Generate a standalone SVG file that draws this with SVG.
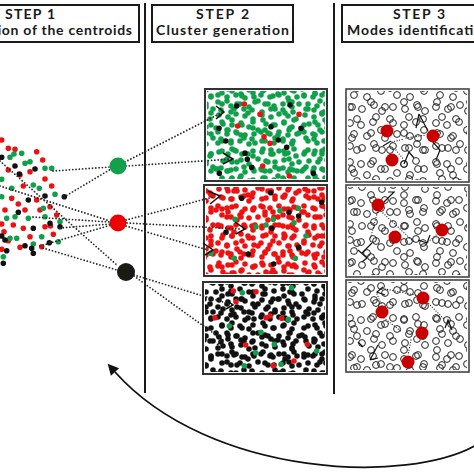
<svg xmlns="http://www.w3.org/2000/svg" width="474" height="474" viewBox="0 0 474 474">
<style>
.hdr{fill:#fff;stroke:#1a1a1a;stroke-width:2}
.ht{font-family:Lato,"Open Sans","Liberation Sans",sans-serif;font-weight:700;font-size:14px;fill:#1a1a1a}
.sep{stroke:#1a1a1a;stroke-width:2}
.pm{fill:#fff;stroke:#333;stroke-width:2}
.pr{fill:#fff;stroke:#444;stroke-width:1.6}
.dot{fill:none;stroke-linecap:round;stroke-width:5.6}
.g{stroke:#0fa04a}.r{stroke:#ee1111}.k{stroke:#111}
.dl{fill:none;stroke:#2a2a2a;stroke-width:1.8;stroke-linecap:round;stroke-dasharray:0 3.3}
.ch{fill:none;stroke:#111;stroke-width:1.5}
.tr{fill:none;stroke:#111;stroke-width:1.2}
.trd{fill:none;stroke:#222;stroke-width:1.3;stroke-linecap:round;stroke-dasharray:0 2.6}
.mode{fill:#c80000}
.hc{fill:none;stroke:#222;stroke-width:1}
</style>
<defs>
<pattern id="p1" width="43" height="37" patternUnits="userSpaceOnUse"><path class="dot" stroke="#fff" d="M4 4h0M13 6h0M21 3h0M30 5h0M38 8h0M8 13h0M17 14h0M26 12h0M34 16h0M3 21h0M12 23h0M21 21h0M30 24h0M39 23h0M7 30h0M16 32h0M25 30h0M34 33h0"/></pattern>
<pattern id="p2" width="31" height="29" patternUnits="userSpaceOnUse"><path class="dot" stroke="#fff" d="M5 6h0M15 4h0M25 9h0M10 14h0M20 17h0M27 22h0M4 23h0M14 25h0"/></pattern>
<pattern id="p5" width="37" height="41" patternUnits="userSpaceOnUse"><path class="dot" stroke="#fff" d="M6 7h0M19 12h0M31 5h0M12 27h0M26 31h0M33 20h0"/></pattern>
<mask id="mD" maskUnits="userSpaceOnUse" x="0" y="0" width="474" height="474"><rect width="474" height="474" fill="url(#p1)"/><rect width="474" height="474" fill="url(#p2)"/><rect width="474" height="474" fill="url(#p5)"/></mask>
<pattern id="p3" width="43" height="39" patternUnits="userSpaceOnUse"><g class="hc"><circle cx="6" cy="6" r="3.4"/><circle cx="17" cy="8" r="3.4"/><circle cx="29" cy="5" r="3.4"/><circle cx="37" cy="13" r="3.4"/><circle cx="10" cy="17" r="3.4"/><circle cx="23" cy="19" r="3.4"/><circle cx="6" cy="29" r="3.4"/><circle cx="18" cy="31" r="3.4"/><circle cx="30" cy="27" r="3.4"/><circle cx="38" cy="33" r="3.4"/></g></pattern>
<pattern id="p4" width="33" height="31" patternUnits="userSpaceOnUse"><g class="hc"><circle cx="8" cy="9" r="3.4"/><circle cx="22" cy="14" r="3.4"/><circle cx="13" cy="24" r="3.4"/><circle cx="27" cy="26" r="3.4"/></g></pattern>
</defs>
<rect width="474" height="474" fill="#fff"/>

<g id="separators">
<line class="sep" x1="145" y1="3" x2="145" y2="393"/>
<line class="sep" x1="334" y1="3" x2="334" y2="394"/>
</g>

<g id="step1-header">
<rect class="hdr" x="-5" y="5" width="144" height="37"/>
<text class="ht" x="5" y="19" textLength="50">STEP 1</text>
<text class="ht" x="-72" y="35" textLength="204">Identification of the centroids</text>
</g>
<g id="step2-header">
<rect class="hdr" x="152" y="5" width="141" height="37"/>
<text class="ht" x="196" y="19" textLength="53">STEP 2</text>
<text class="ht" x="156" y="35" textLength="133">Cluster generation</text>
</g>
<g id="step3-header">
<rect class="hdr" x="342" y="5" width="140" height="37"/>
<text class="ht" x="393" y="19" textLength="52">STEP 3</text>
<text class="ht" x="347" y="35" textLength="144">Modes identification</text>
</g>

<g id="data-cloud">
<path class="dot r" d="M1.7 140h0M8.3 148.3h0M15 149.3h0M36.7 151.7h0M42.7 160h0M8.3 170h0M20 175h0M30 171.7h0M45 179h0M23.3 186h0M51.7 186h0M11.7 198.3h0M18.3 204h0M36.7 200h0M50 206.7h0M5 210h0M25 210h0M40 210h0M56.7 215h0M45 226.7h0M50.5 226h0M53.3 234.3h0M30 236.7h0M20 247.3h0M8.3 240.7h0M41.7 246.7h0M1.7 224h0M13.3 225h0M4 231.7h0M1.7 249.3h0M23.3 228.3h0"/>
<path class="dot g" d="M10 157.3h0M14 154h0M21.7 153.3h0M25 163.3h0M30 161.7h0M45 168.3h0M51.7 168.3h0M1.7 179.3h0M33.3 185h0M39.3 188.3h0M55 194.3h0M1.7 196.7h0M11.7 188.3h0M43.3 208.3h0M28.3 218.3h0M15 216.7h0M6.7 218.3h0M60 221.7h0M41.7 236.7h0M58.3 241.7h0M16.7 238.3h0M3.3 256.7h0M10 238.3h0M33.3 244h0M45 216.7h0"/>
<path class="dot k" d="M1.7 157.3h0M15 166h0M19.3 174h0M35 169h0M45 196h0M64.3 196.7h0M28.3 200h0M18.3 212.3h0M50 223.3h0M60 226.7h0M33.3 228.3h0M5 240h0M25 245.7h0M31.7 248.3h0M33.3 253.3h0M49.3 242.7h0M6.7 250.7h0M3.3 263.3h0M1.7 236h0"/>
</g>

<g id="cluster-green">
<rect class="pm" x="205" y="89" width="122" height="92"/>
<rect x="207" y="91" width="118" height="88" fill="#0fa04a" mask="url(#mD)"/>
<path class="dot k" d="M236.7 106h0M219 128.3h0M225.7 141h0M271 126.7h0M278.3 140h0M286.7 147.3h0M290 105h0M301 128.3h0M245 153.3h0M247.3 159.3h0M251.7 167.3h0M219.3 173.3h0M313.3 173.3h0"/>
<path class="dot r" d="M244.3 104h0M260 114.3h0M237.7 126h0M264 136.7h0M270 143.3h0M299 114.3h0M262.7 166h0M289.3 176h0"/>
</g>
<g id="cluster-red">
<rect class="pm" x="204" y="185" width="123" height="91"/>
<rect x="206" y="187" width="119" height="87" fill="#ee1111" mask="url(#mD)"/>
<path class="dot k" d="M241.7 198.3h0M270.7 192.7h0M321.7 202.3h0M289 212.3h0M298.7 216h0M272 228.3h0M226 232.3h0M298.7 247.3h0M248.3 254h0M273.7 264h0"/>
<path class="dot g" d="M280 210.7h0M298.3 208.3h0M235 219.3h0M273.3 219.3h0M294 222.7h0M256 226.7h0M266 225h0M306 236h0M234.3 258.3h0M295.3 258.3h0M210.7 253.3h0"/>
</g>
<g id="cluster-black">
<rect class="pm" x="203" y="282" width="124" height="92"/>
<rect x="205" y="284" width="120" height="88" fill="#111" mask="url(#mD)"/>
<path class="dot r" d="M233.3 291h0M256 291.7h0M236 301.7h0M215 317.7h0M266 317.7h0M270 316h0M281.7 318.3h0M245.7 345h0M307.3 344.3h0M294 361h0M273.3 365.7h0"/>
<path class="dot g" d="M242.3 292.7h0M291.7 287.7h0M229.3 326h0M261 332.3h0M288.3 319.3h0M274.3 344.3h0M316.7 351h0M255.7 352.7h0M244.3 365.7h0M281 364.3h0"/>
</g>

<g id="modes-1">
<rect class="pr" x="346" y="89" width="123" height="93"/>
<rect x="348" y="91" width="119" height="89" fill="url(#p3)"/>
<rect x="348" y="91" width="119" height="89" fill="url(#p4)"/>
<path class="trd" d="M392 142L404 139M406 138L426 135M396 150L404 160"/>
<path class="tr" d="M419 114L428 131M419 114L416 128M432 141L440 150L436 160M404 164L409 152L414 158M383 146L391 141"/>
<circle class="mode" cx="387" cy="131" r="6.5"/><circle class="mode" cx="433" cy="136" r="6.5"/><circle class="mode" cx="392" cy="160" r="6.5"/>
</g>
<g id="modes-2">
<rect class="pr" x="346" y="185" width="123" height="92"/>
<rect x="348" y="187" width="119" height="88" fill="url(#p3)"/>
<rect x="348" y="187" width="119" height="88" fill="url(#p4)"/>
<path class="trd" d="M383 213L415 243M378 210L370 240M442 230L428 242"/>
<path class="tr" d="M388 192L394 192L383 203M362 253L372 243M358 250L367 258L362 262M418 240L427 243L430 235"/>
<circle class="mode" cx="378" cy="205" r="6.5"/><circle class="mode" cx="395" cy="237" r="6.5"/><circle class="mode" cx="442" cy="230" r="6.5"/>
</g>
<g id="modes-3">
<rect class="pr" x="346" y="280" width="123" height="92"/>
<rect x="348" y="282" width="119" height="88" fill="url(#p3)"/>
<rect x="348" y="282" width="119" height="88" fill="url(#p4)"/>
<path class="trd" d="M385 289L420 296M425 300L445 320M377 294L382 306M384 318L402 332M411 340L408 355"/>
<path class="tr" d="M383 287L377 292L385 295M445 328L448 320L452 330M358 342L363 347M370 360L378 345M370 360L378 358"/>
<circle class="mode" cx="423" cy="298" r="6.5"/><circle class="mode" cx="382" cy="312" r="6.5"/><circle class="mode" cx="422" cy="333" r="6.5"/><circle class="mode" cx="408" cy="362" r="6.5"/>
</g>

<g id="connectors">
<path class="dl" d="M53 171L110 167M64 197L111 169M0 186L110 221M33 217L110 222M40 246L111 225M60 228L110 224M0 161L118 266M43 248L117 270"/>
<path class="dl" d="M125 162L223 112M126 166L232 159M126 220L213 197M127 223L240 229M126 226L208 250M134 275L233 305M134 276L223 340"/>
<path class="ch" d="M216 106L224 112L216 119M223 153L233 159L223 164M208 191L220 196L210 204M235 222L245 229L236 234M203 243L213 250L205 255M226 300L233 305L226 309M216 336L223 340L217 345"/>
<path d="M478 444C410 485 210 478 115 372" fill="none" stroke="#111" stroke-width="1.8"/>
<polygon points="107.7,363.8 119.1,368.3 110.9,375.7" fill="#111"/>
</g>

<g id="centroid-green"><circle cx="118" cy="166" r="8.5" fill="#12a04a"/></g>
<g id="centroid-red"><circle cx="118" cy="223" r="8.5" fill="#ee0000"/></g>
<g id="centroid-black"><circle cx="126" cy="272" r="9" fill="#1a1a14"/></g>
</svg>
